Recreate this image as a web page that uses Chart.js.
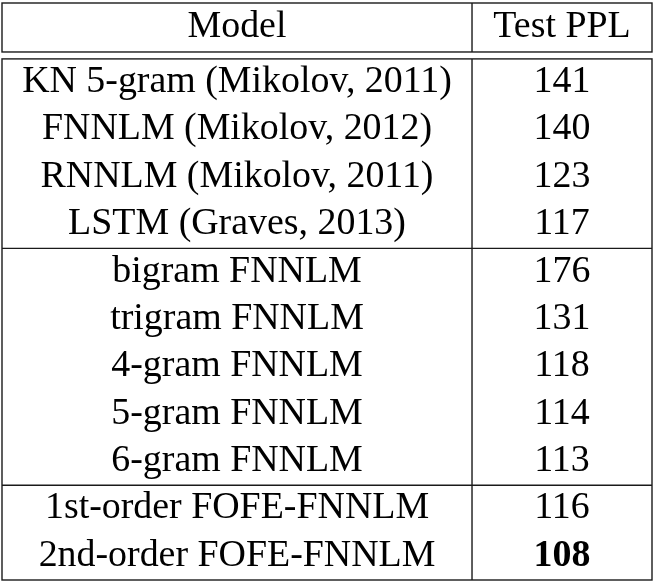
<!DOCTYPE html>
<html>
<head>
<meta charset="utf-8">
<script src="https://cdn.jsdelivr.net/npm/chart.js@4/dist/chart.umd.min.js"></script>
<style>
  html, body { margin: 0; padding: 0; background: #ffffff; }
  #wrap { width: 655px; height: 586px; }
</style>
</head>
<body>
<div id="wrap"><canvas id="c" width="655" height="586"></canvas></div>
<script>
// ---- data ----
const headers = ["Model", "Test PPL"];
const models = [
  "KN 5-gram (Mikolov, 2011)",
  "FNNLM (Mikolov, 2012)",
  "RNNLM (Mikolov, 2011)",
  "LSTM (Graves, 2013)",
  "bigram FNNLM",
  "trigram FNNLM",
  "4-gram FNNLM",
  "5-gram FNNLM",
  "6-gram FNNLM",
  "1st-order FOFE-FNNLM",
  "2nd-order FOFE-FNNLM"
];
const testPPL = [141, 140, 123, 117, 176, 131, 118, 114, 113, 116, 108];
const groupSizes = [4, 5, 2];

// ---- layout in scale units (one unit = one body row) ----
const headerSpan = 1.034;
const bodyStart = 1.18;
const totalSpan = bodyStart + models.length;
const colSplit = 0.7231; // x-scale fraction where the 2nd column starts

const FONT = '"Liberation Serif", "Times New Roman", Times, serif';
const LINE = '#1a1a1a';

const tablePlugin = {
  id: 'tablePlugin',
  afterDraw(chart) {
    const ctx = chart.ctx;
    const xs = chart.scales.x, ys = chart.scales.y;
    const xL = xs.getPixelForValue(0), xM = xs.getPixelForValue(colSplit), xR = xs.getPixelForValue(1);
    const py = v => ys.getPixelForValue(v);
    ctx.save();
    ctx.strokeStyle = LINE;
    ctx.lineWidth = 1.4;
    const rect = (x0, y0, x1, y1) => { ctx.strokeRect(x0, y0, x1 - x0, y1 - y0); };
    const hline = (y) => { ctx.beginPath(); ctx.moveTo(xL, y); ctx.lineTo(xR, y); ctx.stroke(); };
    const vline = (x, y0, y1) => { ctx.beginPath(); ctx.moveTo(x, y0); ctx.lineTo(x, y1); ctx.stroke(); };

    // header box
    rect(xL, py(0), xR, py(headerSpan));
    vline(xM, py(0), py(headerSpan));
    // body box
    rect(xL, py(bodyStart), xR, py(totalSpan));
    vline(xM, py(bodyStart), py(totalSpan));
    // group separators
    let acc = 0;
    for (let g = 0; g < groupSizes.length - 1; g++) {
      acc += groupSizes[g];
      hline(py(bodyStart + acc));
    }

    // text
    ctx.fillStyle = '#000000';
    ctx.textAlign = 'center';
    ctx.textBaseline = 'alphabetic';
    const fs = 37;
    const sx = 1.024;
    const c1 = (xL + xM) / 2, c2 = (xM + xR) / 2;
    const put = (txt, x, y, bold) => {
      ctx.save();
      ctx.font = (bold ? 'bold ' : '') + fs + 'px ' + FONT;
      ctx.translate(x, y);
      ctx.scale(sx, 1);
      ctx.fillText(txt, 0, 0);
      ctx.restore();
    };
    const hy = (py(0) + py(headerSpan)) / 2 + 9.5;
    put(headers[0], c1, hy, false);
    put(headers[1], c2, hy, false);

    const best = Math.min(...testPPL);
    for (let i = 0; i < models.length; i++) {
      const cy = (py(bodyStart + i) + py(bodyStart + i + 1)) / 2 + 9.5;
      put(models[i], c1, cy, false);
      put(String(testPPL[i]), c2, cy, testPPL[i] === best);
    }
    ctx.restore();
  }
};

new Chart(document.getElementById('c'), {
  type: 'scatter',
  data: { datasets: [{ data: [], pointRadius: 0 }] },
  options: {
    responsive: false,
    animation: false,
    devicePixelRatio: 1,
    layout: { padding: { left: 2, top: 3, right: 3, bottom: 6 } },
    plugins: { legend: { display: false }, tooltip: { enabled: false } },
    scales: {
      x: { type: 'linear', min: 0, max: 1, display: false },
      y: { type: 'linear', min: 0, max: totalSpan, reverse: true, display: false }
    }
  },
  plugins: [tablePlugin]
});
</script>
</body>
</html>
